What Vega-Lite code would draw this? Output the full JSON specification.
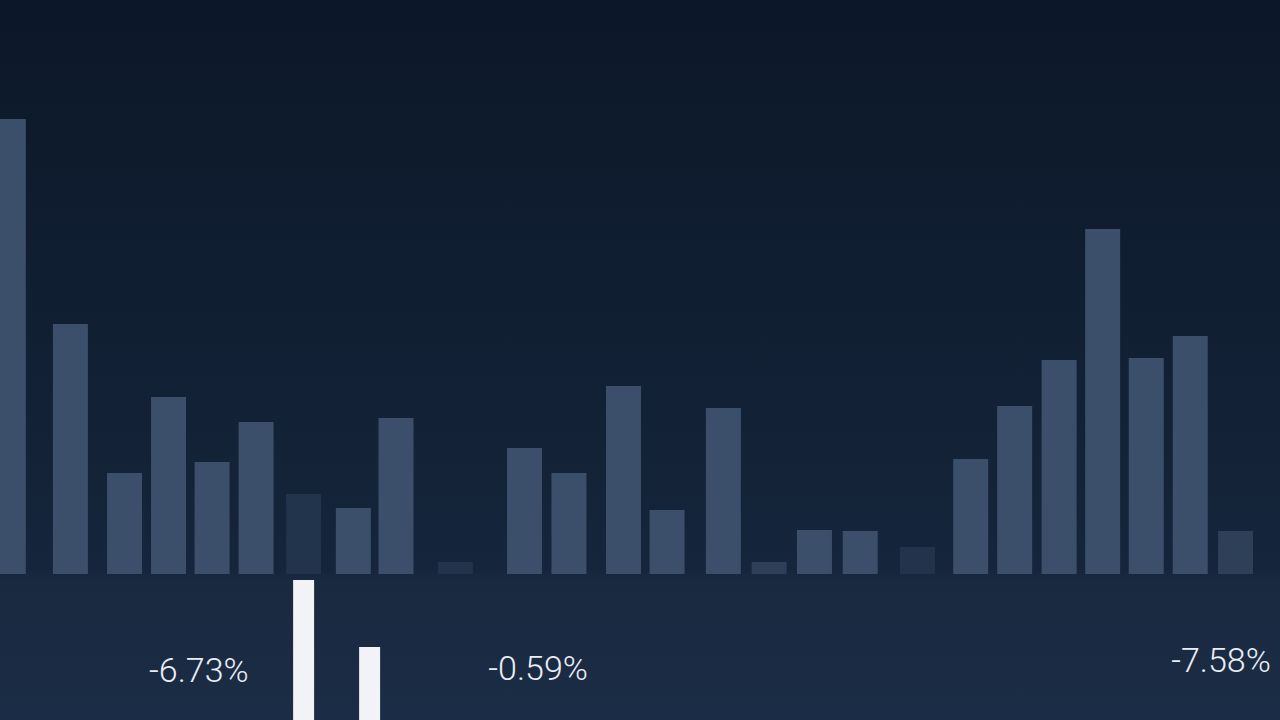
{
  "$schema": "https://vega.github.io/schema/vega-lite/v6.json",
  "width": 1280,
  "height": 720,
  "autosize": {"type": "fit", "contains": "padding"},
  "padding": 0,
  "background": "#0e1b2d",
  "config": {"view": {"stroke": null}},
  "datasets": {
    "bars": [
      {"t": 0.19, "v": 9.1, "tone": "main"},
      {"t": 1.6, "v": 5.0, "tone": "main"},
      {"t": 2.83, "v": 2.02, "tone": "main"},
      {"t": 3.83, "v": 3.54, "tone": "main"},
      {"t": 4.82, "v": 2.24, "tone": "main"},
      {"t": 5.82, "v": 3.04, "tone": "main"},
      {"t": 6.9, "v": 1.6, "tone": "dim"},
      {"t": 8.03, "v": 1.32, "tone": "main"},
      {"t": 9.0, "v": 3.12, "tone": "main"},
      {"t": 10.35, "v": 0.24, "tone": "dim"},
      {"t": 11.92, "v": 2.52, "tone": "main"},
      {"t": 12.93, "v": 2.02, "tone": "main"},
      {"t": 14.17, "v": 3.76, "tone": "main"},
      {"t": 15.16, "v": 1.28, "tone": "main"},
      {"t": 16.44, "v": 3.32, "tone": "main"},
      {"t": 17.48, "v": 0.24, "tone": "mid"},
      {"t": 18.51, "v": 0.88, "tone": "main"},
      {"t": 19.55, "v": 0.86, "tone": "main"},
      {"t": 20.85, "v": 0.54, "tone": "dim"},
      {"t": 22.06, "v": 2.3, "tone": "main"},
      {"t": 23.06, "v": 3.36, "tone": "main"},
      {"t": 24.07, "v": 4.28, "tone": "main"},
      {"t": 25.06, "v": 6.9, "tone": "main"},
      {"t": 26.05, "v": 4.32, "tone": "main"},
      {"t": 27.05, "v": 4.76, "tone": "main"},
      {"t": 28.08, "v": 0.86, "tone": "mid"}
    ],
    "drops": [
      {"t": 6.9, "top": -0.12, "bottom": -3.2},
      {"t": 8.4, "top": -1.46, "bottom": -3.2}
    ],
    "labels": [
      {"t": 4.52, "v": -1.96, "label": "-6.73%"},
      {"t": 12.23, "v": -1.92, "label": "-0.59%"},
      {"t": 27.75, "v": -1.76, "label": "-7.58%"}
    ]
  },
  "layer": [
    {
      "data": {"values": [{"bg": 1}]},
      "mark": {
        "type": "rect",
        "color": {
          "gradient": "linear",
          "x1": 0, "y1": 0, "x2": 0, "y2": 1,
          "stops": [
            {"offset": 0, "color": "#0c1829"},
            {"offset": 0.45, "color": "#111f33"},
            {"offset": 0.79, "color": "#15253b"},
            {"offset": 0.805, "color": "#19293f"},
            {"offset": 1, "color": "#1b2c46"}
          ]
        }
      },
      "encoding": {}
    },
    {
      "data": {"name": "bars"},
      "mark": {"type": "bar", "width": 35, "clip": true},
      "encoding": {
        "x": {"field": "t", "type": "quantitative", "scale": {"domain": [0, 29.09], "nice": false, "zero": false, "padding": 0}, "axis": null},
        "y": {"field": "v", "type": "quantitative", "scale": {"domain": [-2.92, 11.48], "nice": false, "zero": false, "padding": 0}, "axis": null},
        "y2": {"datum": 0},
        "color": {"field": "tone", "type": "nominal", "scale": {"domain": ["main", "mid", "dim"], "range": ["#3b4f6a", "#2e4058", "#22344b"]}, "legend": null}
      }
    },
    {
      "data": {"name": "drops"},
      "mark": {"type": "bar", "width": 21, "clip": true, "color": "#f1f3f6"},
      "encoding": {
        "x": {"field": "t", "type": "quantitative"},
        "y": {"field": "top", "type": "quantitative"},
        "y2": {"field": "bottom"}
      }
    },
    {
      "data": {"name": "labels"},
      "mark": {"type": "text", "font": "Roboto", "fontWeight": 300, "fontSize": 34, "color": "#e9eef4", "align": "center", "baseline": "middle"},
      "encoding": {
        "x": {"field": "t", "type": "quantitative"},
        "y": {"field": "v", "type": "quantitative"},
        "text": {"field": "label"}
      }
    }
  ]
}
